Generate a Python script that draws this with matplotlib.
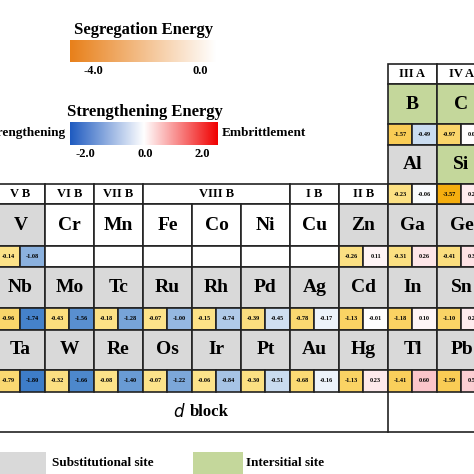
import numpy as np
import matplotlib
matplotlib.use("Agg")
import matplotlib.pyplot as plt
from matplotlib.colors import LinearSegmentedColormap, Normalize
from matplotlib.patches import Rectangle

plt.rcParams['font.family'] = ['Liberation Serif', 'DejaVu Serif']

# ---- data ----
d_elements = [["V", "Cr", "Mn", "Fe", "Co", "Ni", "Cu", "Zn", "Ga", "Ge"],
              ["Nb", "Mo", "Tc", "Ru", "Rh", "Pd", "Ag", "Cd", "In", "Sn"],
              ["Ta", "W", "Re", "Os", "Ir", "Pt", "Au", "Hg", "Tl", "Pb"]]
seg_d = [[-0.14, None, None, None, None, None, None, -0.26, -0.31, -0.41],
         [-0.96, -0.43, -0.18, -0.07, -0.15, -0.39, -0.78, -1.13, -1.18, -1.10],
         [-0.79, -0.32, -0.08, -0.07, -0.06, -0.30, -0.68, -1.13, -1.41, -1.59]]
str_d = [[-1.08, None, None, None, None, None, None, 0.11, 0.26, 0.30],
         [-1.74, -1.56, -1.28, -1.00, -0.74, -0.45, -0.17, -0.01, 0.10, 0.20],
         [-1.80, -1.66, -1.40, -1.22, -0.84, -0.51, -0.16, 0.23, 0.60, 0.50]]
site_d = [["S", "N", "N", "N", "N", "N", "N", "S", "S", "S"],
          ["S"] * 10, ["S"] * 10]
p_elements = [["B", "C"], ["Al", "Si"]]
seg_p = [[-1.57, -0.97], [-0.23, -3.57]]
str_p = [[-0.49, 0.02], [-0.06, 0.20]]
site_p = [["I", "I"], ["S", "I"]]
groups_d = [("V B", 0, 1), ("VI B", 1, 2), ("VII B", 2, 3), ("VIII B", 3, 6),
            ("I B", 6, 7), ("II B", 7, 8)]
groups_p = ["III A", "IV A"]

GRAY, GREEN = "#D9D9D9", "#C4D79B"
seg_cmap = LinearSegmentedColormap.from_list("seg", ["#F4A800", "#FCE48C"])
seg_bar = LinearSegmentedColormap.from_list("segbar", ["#E8801A", "#FFFFFF"])
str_bar = LinearSegmentedColormap.from_list("strbar", ["#1F5BC0", "#FFFFFF", "#F00000"])
str_cmap = LinearSegmentedColormap.from_list("str", ["#2A70C2", "#FFFFFF", "#F04050"])
seg_norm = Normalize(-4, 0)
str_norm = Normalize(-2, 2)

fig = plt.figure(figsize=(4.74, 4.74), dpi=100)
ax = fig.add_axes([0, 0, 1, 1])
ax.set_xlim(0, 474)
ax.set_ylim(474, 0)
ax.axis("off")

W = 49.0
x0 = -4.0
def colx(i):
    return x0 + W * i

lw = 1.2
def cell(x, y, w, h, fc):
    ax.add_patch(Rectangle((x, y), w, h, facecolor=fc, edgecolor="#222222", lw=lw, zorder=1))

def values(x, y, h, s, t):
    if s is None:
        cell(x, y, W, h, "white")
        return
    cell(x, y, W / 2, h, seg_cmap(seg_norm(s)))
    cell(x + W / 2, y, W / 2, h, str_cmap(str_norm(t)))
    ax.text(x + W / 4, y + h / 2, f"{s:.2f}", ha="center", va="center", fontsize=4.5, fontweight="bold", zorder=3)
    ax.text(x + 3 * W / 4, y + h / 2, f"{t:.2f}", ha="center", va="center", fontsize=4.5, fontweight="bold", zorder=3)

def elem(x, y, h, name, site):
    fc = {"S": GRAY, "I": GREEN, "N": "white"}[site]
    cell(x, y, W, h, fc)
    ax.text(x + W / 2, y + h / 2, name, ha="center", va="center", fontsize=14, fontweight="bold", zorder=3)

# d-block header
hy0, hy1 = 184, 204
for name, a, b in groups_d:
    cell(colx(a), hy0, W * (b - a), hy1 - hy0, "white")
    ax.text((colx(a) + colx(b)) / 2, (hy0 + hy1) / 2, name, ha="center", va="center",
            fontsize=9, fontweight="bold", zorder=3)

rows = [(204, 246, 267), (267, 308, 330), (330, 370, 392)]
for r, (ya, yb, yc) in enumerate(rows):
    for c in range(10):
        elem(colx(c), ya, yb - ya, d_elements[r][c], site_d[r][c])
        values(colx(c), yb, yc - yb, seg_d[r][c], str_d[r][c])

# p-block upper part
prow = [(84, 124, 145), (145, 184, 204)]
for c, name in enumerate(groups_p):
    cell(colx(8 + c), 64, W, 20, "white")
    ax.text(colx(8 + c) + W / 2, 74, name, ha="center", va="center", fontsize=9, fontweight="bold", zorder=3)
for r, (ya, yb, yc) in enumerate(prow):
    for c in range(2):
        elem(colx(8 + c), ya, yb - ya, p_elements[r][c], site_p[r][c])
        values(colx(8 + c), yb, yc - yb, seg_p[r][c], str_p[r][c])

# block label row
ax.plot([0, 474], [432, 432], color="#222222", lw=lw)
ax.plot([colx(8), colx(8)], [392, 432], color="#222222", lw=lw)
ax.text(colx(4) - 6, 412, "$d$", ha="right", va="center", fontsize=12)
ax.text(colx(4) - 2, 412, "block", ha="left", va="center", fontsize=12, fontweight="bold")

# colorbars
grad = np.linspace(0, 1, 256).reshape(1, -1)
ax.imshow(grad, extent=(70, 216, 62, 40), cmap=seg_bar, aspect="auto", zorder=2)
ax.text(144, 30, "Segregation Energy", ha="center", va="center", fontsize=12, fontweight="bold")
ax.text(93, 71, "-4.0", ha="center", va="center", fontsize=9, fontweight="bold")
ax.text(200, 71, "0.0", ha="center", va="center", fontsize=9, fontweight="bold")

ax.imshow(grad, extent=(70, 218, 145, 122), cmap=str_bar, aspect="auto", zorder=2)
ax.text(145, 112, "Strengthening Energy", ha="center", va="center", fontsize=12, fontweight="bold")
ax.text(65, 133, "Strengthening", ha="right", va="center", fontsize=9.5, fontweight="bold")
ax.text(222, 133, "Embrittlement", ha="left", va="center", fontsize=9.5, fontweight="bold")
for v, xp in [("-2.0", 85), ("0.0", 145), ("2.0", 202)]:
    ax.text(xp, 154, v, ha="center", va="center", fontsize=9, fontweight="bold")

# legend
ax.add_patch(Rectangle((0, 452), 46, 24, facecolor=GRAY, edgecolor="none"))
ax.text(52, 463, "Substitutional site", ha="left", va="center", fontsize=9.5, fontweight="bold")
ax.add_patch(Rectangle((193, 452), 50, 24, facecolor=GREEN, edgecolor="none"))
ax.text(246, 463, "Intersitial site", ha="left", va="center", fontsize=9.5, fontweight="bold")

fig.savefig("out.png", dpi=100)
